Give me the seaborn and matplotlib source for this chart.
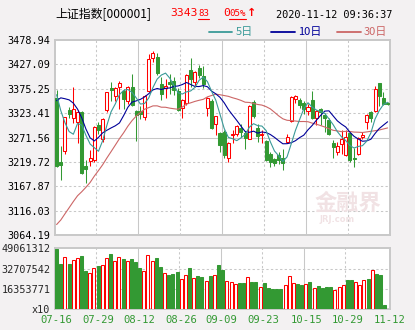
import matplotlib
matplotlib.use("Agg")
import matplotlib.pyplot as plt
import seaborn as sns
import numpy as np
from matplotlib.lines import Line2D

# ---------------- data ----------------
opens = [3356, 3219, 3243, 3329, 3313.5, 3305, 3325, 3212, 3222, 3223,
         3299, 3269, 3331, 3376, 3360, 3380, 3370, 3349, 3378, 3328,
         3328, 3315, 3371, 3440, 3442, 3385, 3376, 3390, 3392, 3371,
         3335, 3345, 3415, 3390, 3420, 3402, 3335, 3349, 3301, 3281,
         3283, 3227, 3276, 3278, 3292, 3282, 3269, 3347, 3291, 3276,
         3264, 3237, 3225, 3234, 3227, 3262, 3306, 3353, 3352, 3345,
         3328, 3351, 3312, 3332, 3320, 3308, 3260, 3241, 3257, 3235,
         3281, 3228, 3237, 3273, 3305, 3325, 3328, 3387, 3355, 3345.3]
highs = [3372, 3253, 3316, 3337, 3380, 3330, 3328, 3223, 3246, 3296,
         3304, 3312, 3369, 3389, 3380, 3392, 3374, 3382, 3407, 3330,
         3339, 3362, 3450, 3456, 3451, 3401, 3397, 3406, 3401, 3376,
         3353, 3406, 3441, 3412, 3425, 3423, 3358, 3353, 3318, 3283,
         3287, 3262, 3287, 3299, 3301, 3285, 3340, 3351, 3301, 3287,
         3266, 3240, 3227, 3240, 3248, 3280, 3360, 3362, 3355, 3350,
         3342, 3370, 3330, 3334, 3324, 3312, 3266, 3261, 3287, 3287,
         3284, 3249, 3273, 3284, 3321, 3327, 3382, 3388, 3368, 3347]
lows = [3209, 3181, 3237, 3312, 3303, 3259, 3193, 3175, 3211, 3220,
        3280, 3262, 3325, 3350, 3349, 3333, 3333, 3343, 3338, 3265,
        3311, 3308, 3368, 3433, 3405, 3352, 3356, 3365, 3362, 3327,
        3312, 3341, 3380, 3379, 3398, 3376, 3317, 3290, 3277, 3240,
        3229, 3220, 3260, 3275, 3273, 3248, 3268, 3312, 3262, 3259,
        3221, 3209, 3210, 3215, 3202, 3260, 3304, 3345, 3335, 3322,
        3320, 3310, 3298, 3298, 3284, 3276, 3227, 3235, 3237, 3232,
        3220, 3209, 3235, 3268, 3290, 3305, 3326, 3339, 3340, 3340]
closes = [3210.10, 3214.13, 3314.15, 3320.90, 3333.16, 3325.11, 3196.77, 3205.23, 3227.96, 3294.55,
          3286.82, 3310.01, 3367.97, 3371.69, 3377.56, 3386.46, 3354.04, 3379.25, 3340.29, 3319.27,
          3320.73, 3360.10, 3438.80, 3451.09, 3408.13, 3363.90, 3380.68, 3385.64, 3373.58, 3329.74,
          3350.44, 3403.81, 3395.68, 3410.61, 3404.80, 3384.98, 3355.37, 3292.59, 3316.42, 3254.63,
          3234.82, 3260.35, 3278.81, 3295.68, 3283.92, 3270.44, 3338.09, 3316.94, 3274.30, 3279.71,
          3223.18, 3219.42, 3217.53, 3224.36, 3218.05, 3272.08, 3358.47, 3359.75, 3340.48, 3332.18,
          3336.36, 3312.50, 3328.10, 3325.03, 3312.16, 3278.00, 3251.12, 3254.32, 3269.24, 3272.74,
          3224.53, 3225.12, 3271.07, 3277.44, 3320.13, 3312.16, 3373.73, 3360.15, 3342.20, 3343.83]
volumes = [48900000, 36400000, 42100000, 36400000, 39700000, 41300000, 42900000, 30800000, 29200000, 33200000,
           34800000, 35600000, 41300000, 44500000, 38800000, 42100000, 40500000, 38800000, 40500000, 38000000,
           33200000, 30800000, 43700000, 38800000, 41300000, 34000000, 29200000, 27600000, 28400000, 30000000,
           24400000, 27600000, 33200000, 25200000, 26800000, 26000000, 22800000, 26800000, 27600000, 35600000,
           31600000, 22800000, 22000000, 20300000, 21200000, 21200000, 26000000, 22000000, 22000000, 17900000,
           21200000, 17100000, 16300000, 16300000, 16300000, 19500000, 26800000, 21200000, 20300000, 19500000,
           20300000, 22000000, 17100000, 18700000, 17100000, 17900000, 17900000, 15500000, 17900000, 19500000,
           23600000, 23600000, 22000000, 19500000, 23600000, 24400000, 31600000, 28400000, 27600000, 3500000]
ma5 = [3362.5, 3328.7, 3302.9, 3284.1, 3278.5, 3301.5, 3298.0, 3276.2, 3257.7, 3249.9,
       3242.3, 3264.9, 3297.5, 3326.2, 3342.8, 3362.8, 3371.6, 3373.8, 3367.5, 3355.9,
       3342.7, 3343.9, 3355.8, 3378.0, 3395.8, 3404.4, 3408.5, 3397.9, 3382.4, 3366.7,
       3364.0, 3368.6, 3370.6, 3378.0, 3393.1, 3400.0, 3390.3, 3369.7, 3350.8, 3320.8,
       3290.8, 3271.8, 3269.0, 3264.9, 3270.7, 3277.8, 3293.4, 3301.0, 3296.7, 3295.9,
       3286.4, 3262.7, 3242.8, 3232.8, 3220.5, 3230.3, 3258.1, 3286.6, 3309.8, 3332.6,
       3345.5, 3336.3, 3329.9, 3326.8, 3322.8, 3311.2, 3298.9, 3284.1, 3273.0, 3265.1,
       3254.4, 3249.2, 3252.5, 3254.2, 3263.6, 3281.2, 3310.9, 3328.7, 3341.7, 3346.4]
ma10 = [3349.8, 3355.9, 3354.0, 3351.6, 3344.6, 3332.0, 3313.4, 3289.6, 3270.9, 3264.2,
        3271.9, 3281.5, 3286.9, 3291.9, 3296.4, 3302.5, 3318.2, 3335.7, 3346.9, 3349.4,
        3352.7, 3357.8, 3364.8, 3372.8, 3375.8, 3373.6, 3376.2, 3376.9, 3380.2, 3381.2,
        3384.2, 3388.6, 3384.3, 3380.2, 3379.9, 3382.0, 3379.5, 3370.2, 3364.4, 3356.9,
        3345.4, 3331.0, 3319.3, 3307.9, 3295.8, 3284.3, 3282.6, 3285.0, 3280.8, 3283.3,
        3282.1, 3278.0, 3271.9, 3264.8, 3258.2, 3258.4, 3260.4, 3264.7, 3271.3, 3276.6,
        3287.9, 3297.2, 3308.3, 3318.3, 3327.7, 3328.3, 3317.6, 3307.0, 3299.9, 3294.0,
        3282.8, 3274.0, 3268.3, 3263.6, 3264.4, 3267.8, 3280.0, 3290.6, 3297.9, 3305.0]
ma30 = [3086.4, 3096.1, 3109.3, 3122.3, 3135.4, 3147.7, 3156.2, 3165.7, 3175.9, 3189.4,
        3201.3, 3213.7, 3228.0, 3241.5, 3255.2, 3269.1, 3281.6, 3295.5, 3307.4, 3317.1,
        3324.8, 3331.7, 3335.2, 3338.8, 3338.9, 3336.0, 3335.9, 3334.0, 3332.7, 3331.6,
        3336.3, 3342.6, 3345.3, 3348.3, 3350.7, 3352.7, 3358.0, 3360.9, 3363.8, 3362.5,
        3360.8, 3359.1, 3356.1, 3353.6, 3350.5, 3346.6, 3346.1, 3344.0, 3341.8, 3340.5,
        3337.2, 3332.5, 3325.2, 3317.6, 3311.3, 3308.2, 3307.5, 3306.6, 3305.5, 3305.6,
        3305.1, 3302.1, 3299.8, 3297.0, 3293.9, 3290.3, 3286.9, 3285.6, 3284.0, 3284.6,
        3284.3, 3283.1, 3282.8, 3282.2, 3283.4, 3284.8, 3286.0, 3287.5, 3289.7, 3291.9]
price_ticks = [3064.19, 3116.03, 3167.87, 3219.72, 3271.56, 3323.41, 3375.25, 3427.09, 3478.94]
vol_ticks = [0, 16353771, 32707542, 49061312]
vol_tick_labels = ["x10", "16353771", "32707542", "49061312"]
date_labels = ["07-16", "07-29", "08-12", "08-26", "09-09", "09-23", "10-15", "10-29", "11-12"]
title_name = "上证指数[000001]"
last_int, last_dec = "3343", "83"
chg_int, chg_dec = "0", "05%"
timestamp = "2020-11-12 09:36:37"
legend_names = ["5日", "10日", "30日"]

# ---------------- style ----------------
sns.set_style("white")
plt.rcParams['font.family'] = ['DejaVu Sans Mono', 'Noto Sans CJK SC']
CJK = ['Noto Sans CJK SC', 'DejaVu Sans']
RED = '#FF0000'
GREEN = '#339933'
C5, C10, C30 = '#3A9A98', '#000099', '#CC6666'
GRID = '#C8C8C8'
BG = '#F3F1F2'

W, H = 415, 330
def fx(px): return px / W
def fy(py): return 1 - py / H

fig = plt.figure(figsize=(W / 100, H / 100), dpi=100, facecolor=BG)
L, R = 54.5, 389.7
ax = fig.add_axes([fx(L), fy(235), (R - L) / W, (235 - 40) / H])
axv = fig.add_axes([fx(L), fy(309.3), (R - L) / W, (309.3 - 248.3) / H])

n = len(closes)
idx = np.arange(n)
dash = (0, (2.2, 2.2))

for a in (ax, axv):
    a.set_facecolor('white')
    a.set_xlim(-0.5, n - 0.5)
    for s in a.spines.values():
        s.set_color(GRID)
        s.set_linewidth(1.4)
    for k in range(1, 8):
        a.axvline(10 * k - 0.5, color=GRID, lw=0.75,
                  ls='-' if k % 2 == 0 else dash, zorder=0)

ax.set_ylim(price_ticks[0], price_ticks[-1])
for v in price_ticks[1:-1]:
    ax.axhline(v, color=GRID, lw=0.75, ls='-' if v == price_ticks[4] else dash, zorder=0)
axv.set_ylim(0, vol_ticks[-1])
for v in vol_ticks[1:-1]:
    axv.axhline(v, color=GRID, lw=0.75, ls=dash, zorder=0)

# ---------------- candles ----------------
up = [c >= o for o, c in zip(opens, closes)]
cols = [RED if u else GREEN for u in up]
ax.vlines(idx, lows, highs, colors=cols, lw=0.75, zorder=2)
bottoms = [min(o, c) for o, c in zip(opens, closes)]
heights = [max(abs(c - o), 1.2) for o, c in zip(opens, closes)]
ax.bar(idx, heights, bottom=bottoms, width=0.72,
       color=['white' if u else GREEN for u in up], edgecolor=cols, linewidth=0.75, zorder=3)

# moving averages
sns.lineplot(x=idx, y=ma30, ax=ax, color=C30, lw=0.8, zorder=4, legend=False)
sns.lineplot(x=idx, y=ma10, ax=ax, color=C10, lw=0.8, zorder=4, legend=False)
sns.lineplot(x=idx, y=ma5, ax=ax, color=C5, lw=0.8, zorder=4, legend=False)

# volume
axv.bar(idx, volumes, width=0.72, color=['white' if u else GREEN for u in up],
        edgecolor=cols, linewidth=0.75, zorder=3)

# ---------------- ticks ----------------
tick_font = dict(family='DejaVu Sans Mono', size=7.3)
ax.set_xticks([])
ax.set_yticks(price_ticks)
ax.set_yticklabels([f"{v:.2f}" for v in price_ticks], fontdict=tick_font)
ax.tick_params(axis='y', length=0, pad=3, colors='black')
ax.set_ylabel(''); ax.set_xlabel('')

label_pos = [0, 9.95, 19.9, 30.1, 39.6, 49.7, 60.2, 70.1, 80.2]
axv.set_xticks(label_pos)
axv.set_xticklabels(date_labels, fontdict=dict(family='DejaVu Sans Mono', size=7.6), color=GREEN)
axv.set_yticks(vol_ticks)
axv.set_yticklabels(vol_tick_labels, fontdict=tick_font)
axv.tick_params(axis='both', length=0, pad=3)
axv.tick_params(axis='x', pad=4)

# watermark
ax.text(0.876, 0.165, '金融界', transform=ax.transAxes, ha='center', va='center',
        fontsize=16, color='#F1E2E4', family=CJK, weight='bold', zorder=0.5)
ax.text(0.843, 0.078, 'JRJ.com', transform=ax.transAxes, ha='center', va='center',
        fontsize=6, color='#F1E2E4', family='DejaVu Sans', weight='bold', zorder=0.5)

# ---------------- header ----------------
fig.text(fx(55), fy(14.5), title_name, family=CJK, fontsize=8.6, ha='left', va='center', color='black')
fig.text(fx(170), fy(13.5), last_int, fontsize=8.2, ha='left', va='center', color=RED)
fig.text(fx(198), fy(13.8), last_dec, fontsize=6.6, ha='left', va='center', color=RED)
fig.lines.append(Line2D([fx(198), fx(209)], [fy(18.6), fy(18.6)], transform=fig.transFigure, color=RED, lw=0.8))
fig.text(fx(223), fy(13.5), chg_int, fontsize=8.2, ha='left', va='center', color=RED)
fig.text(fx(229), fy(13.8), chg_dec, fontsize=6.6, ha='left', va='center', color=RED)
fig.lines.append(Line2D([fx(229), fx(246)], [fy(18.6), fy(18.6)], transform=fig.transFigure, color=RED, lw=0.8))
fig.text(fx(247), fy(13.5), '↑', family='DejaVu Sans', fontsize=8, ha='left', va='center', color=RED, weight='bold')
fig.text(fx(276), fy(15), timestamp, fontsize=7.4, ha='left', va='center', color='black')

# legend
for (x0, x1, xt), name, c in zip([(209, 232, 236), (271, 295, 298), (337, 361, 364)], legend_names, [C5, C10, C30]):
    fig.lines.append(Line2D([fx(x0), fx(x1)], [fy(31.5), fy(31.5)], transform=fig.transFigure, color=c, lw=1.3))
    fig.text(fx(xt), fy(31.5), name, family=CJK, fontsize=8, ha='left', va='center', color=c)

fig.savefig('out.png', dpi=100, facecolor=BG)
